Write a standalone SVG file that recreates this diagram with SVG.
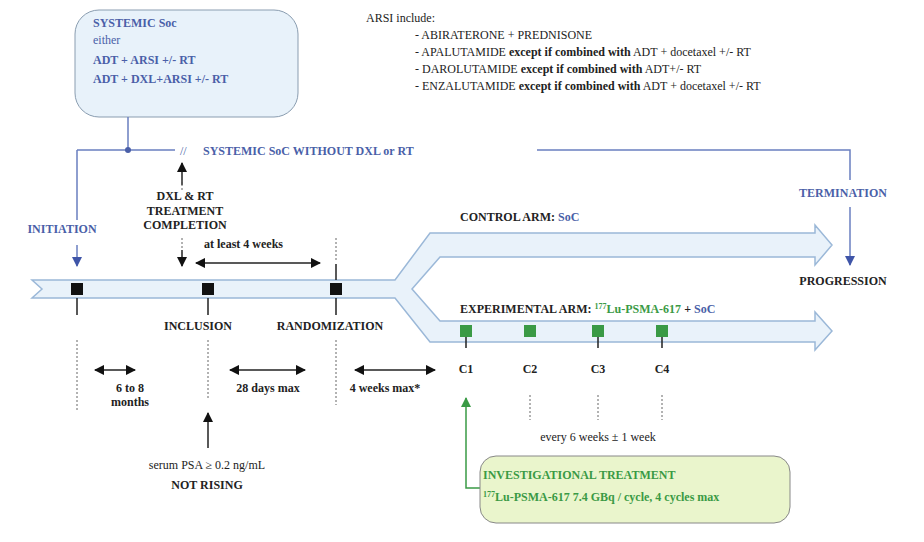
<svg xmlns="http://www.w3.org/2000/svg" width="924" height="542" viewBox="0 0 924 542">
<style>
text{font-family:"Liberation Serif",Tinos,"Times New Roman","DejaVu Serif",serif;font-size:12px;font-weight:bold;fill:#222}
.b{fill:#4a5fa8}.g{fill:#3a9a45}.n{font-weight:normal}.c{text-anchor:middle}
.ln{stroke:#222;stroke-width:1.5;fill:none}.bl{stroke:#6a7fc0;stroke-width:1.5;fill:none}
.dot{stroke:#666;stroke-width:1;stroke-dasharray:2,2;fill:none}
</style>
<defs>
<marker id="ak" viewBox="0 0 10 10" refX="9" refY="5" markerWidth="7" markerHeight="7" orient="auto-start-reverse"><path d="M0,0L10,5L0,10z" fill="#111"/></marker>
<marker id="ab" viewBox="0 0 10 10" refX="9" refY="5" markerWidth="7" markerHeight="7" orient="auto"><path d="M0,0L10,5L0,10z" fill="#3f55a8"/></marker>
<marker id="ag" viewBox="0 0 10 10" refX="9" refY="5" markerWidth="7" markerHeight="7" orient="auto"><path d="M0,0L10,5L0,10z" fill="#3a9a45"/></marker>
</defs>
<rect width="924" height="542" fill="#fff"/>
<g id="band"><path d="M32,280L395,280L430,233L815,233L815,225L832,245L815,265L815,257L440,257L412,289L440,321L815,321L815,312L832,331L815,350L815,342L430,342L395,298L32,298L42,289Z" fill="#e9f2fa" stroke="#9bb8d8" stroke-width="1.5"/></g>
<g id="systemic-box"><rect x="75" y="10" width="223" height="107" rx="24" fill="#e8f2fa" stroke="#8a9db0"/>
<text x="93" y="27" class="b">SYSTEMIC Soc</text><text x="93" y="44" class="b n">either</text>
<text x="93" y="64" class="b">ADT + ARSI  +/- RT</text><text x="93" y="83" class="b">ADT + DXL+ARSI +/- RT</text></g>
<g id="arsi">
<text x="366" y="22" class="n">ARSI include:</text>
<text x="415" y="39" class="n">- ABIRATERONE + PREDNISONE</text>
<text x="415" y="56" class="n">- APALUTAMIDE <tspan font-weight="bold">except if combined with</tspan> ADT + docetaxel +/- RT</text>
<text x="415" y="73" class="n">- DAROLUTAMIDE <tspan font-weight="bold">except if combined with</tspan> ADT+/- RT</text>
<text x="415" y="90" class="n">- ENZALUTAMIDE <tspan font-weight="bold">except if combined with</tspan> ADT + docetaxel +/- RT</text>
</g>
<g id="connectors">
<path class="bl" d="M128,117V150M77,150H175M77,150V220"/><circle cx="128" cy="150" r="3" fill="#4a5fa8"/>
<text x="180" y="155" class="b n">//</text>
<path class="bl" d="M77,245V266" marker-end="url(#ab)"/>
<path class="bl" d="M537,150H850V180"/>
<path class="bl" d="M850,207V265" marker-end="url(#ab)"/>
<path class="ln" d="M182,185V163" marker-end="url(#ak)"/><path class="dot" d="M182,190V180"/>
<path class="ln" d="M182,250V266" marker-end="url(#ak)"/><path class="dot" d="M182,238V252"/>
<path class="ln" d="M196,263H320" marker-start="url(#ak)" marker-end="url(#ak)"/>
<path class="dot" d="M336,238V260"/><path class="ln" d="M336,264V280" stroke-width="1"/>
<path class="ln" stroke-width="1" d="M77,298V315M208,298V315M336,298V315M466,337V348M598,337V348M662,337V348"/>
<path class="dot" d="M77,340V410M208,340V400M336,340V405M530,395V420M598,395V420M662,395V420"/>
<path class="ln" d="M95,370H135" marker-start="url(#ak)" marker-end="url(#ak)"/>
<path class="ln" d="M230,370H305" marker-start="url(#ak)" marker-end="url(#ak)"/>
<path class="ln" d="M355,370H435" marker-start="url(#ak)" marker-end="url(#ak)"/>
<path class="ln" d="M208,448V413" marker-end="url(#ak)"/>
<path d="M480,488H466V398" stroke="#3a9a45" stroke-width="1.5" fill="none" marker-end="url(#ag)"/>
</g>
<g id="timepoints" fill="#111">
<rect x="71" y="283" width="12" height="12"/><rect x="202" y="283" width="12" height="12"/><rect x="330" y="283" width="12" height="12"/>
</g>
<g id="cycles" fill="#3a9a45">
<rect x="460" y="325" width="12" height="12"/><rect x="524" y="325" width="12" height="12"/><rect x="592" y="325" width="12" height="12"/><rect x="656" y="325" width="12" height="12"/>
</g>
<g id="labels">
<text x="203" y="155" class="b" font-size="13">SYSTEMIC SoC WITHOUT DXL or RT</text>
<text x="62" y="233" class="b c">INITIATION</text>
<text x="185" y="200" class="c">DXL &amp; RT</text><text x="185" y="215" class="c">TREATMENT</text><text x="185" y="229" class="c">COMPLETION</text>
<text x="204" y="248">at least 4 weeks</text>
<text x="198" y="330" class="c">INCLUSION</text><text x="330" y="330" class="c">RANDOMIZATION</text>
<text x="130" y="392" class="c">6 to 8</text><text x="130" y="406" class="c">months</text>
<text x="268" y="392" class="c">28 days max</text><text x="385" y="392" class="c">4 weeks max*</text>
<text x="207" y="469" class="c n">serum PSA ≥ 0.2 ng/mL</text><text x="207" y="489" class="c">NOT RISING</text>
<text x="460" y="221">CONTROL ARM: <tspan class="b">SoC</tspan></text>
<text x="460" y="313">EXPERIMENTAL ARM: <tspan class="g" font-size="8" dy="-4">177</tspan><tspan class="g" dy="4">Lu-PSMA-617</tspan> + <tspan class="b">SoC</tspan></text>
<text x="843" y="197" class="b c">TERMINATION</text><text x="843" y="285" class="c">PROGRESSION</text>
<text x="466" y="373" class="c">C1</text><text x="530" y="373" class="c">C2</text><text x="598" y="373" class="c">C3</text><text x="662" y="373" class="c">C4</text>
<text x="598" y="441" class="c n">every 6 weeks ± 1 week</text>
</g>
<g id="investigational-box"><rect x="480" y="456" width="310" height="67" rx="16" fill="#eaf5cc" stroke="#888"/>
<text x="483" y="479" class="g">INVESTIGATIONAL TREATMENT</text>
<text x="483" y="501" class="g"><tspan font-size="8" dy="-4">177</tspan><tspan dy="4">Lu-PSMA-617  7.4 GBq / cycle, 4 cycles max</tspan></text></g>
</svg>
